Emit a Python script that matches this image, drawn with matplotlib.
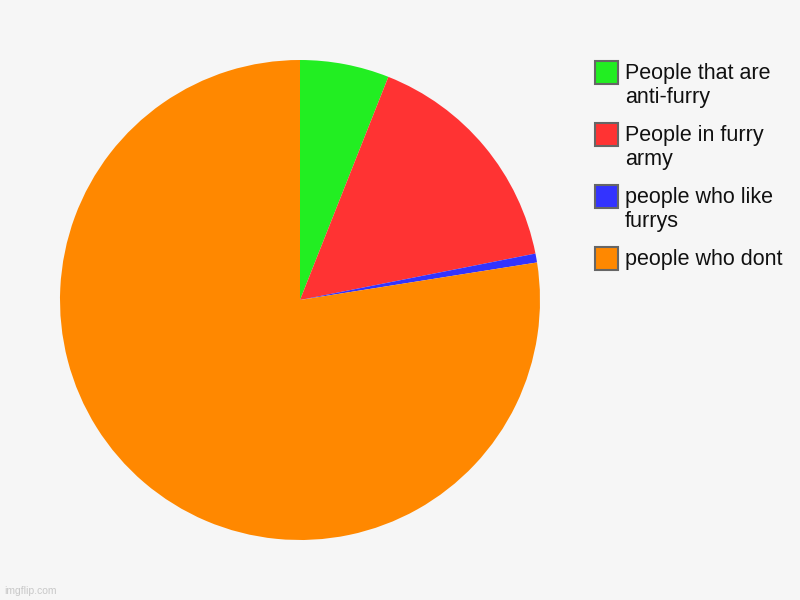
import matplotlib.pyplot as plt
from matplotlib.patches import Rectangle

labels = ['People that are\nanti-furry', 'People in furry\narmy', 'people who like\nfurrys', 'people who dont']
values = [6.0, 15.9, 0.6, 77.5]
colors = ['#22ee22', '#ff3333', '#3333ff', '#ff8800']

W, H = 800, 600
fig = plt.figure(figsize=(8, 6), dpi=100, facecolor='#f6f6f6')
ax = fig.add_axes([60 / W, 60 / H, 480 / W, 480 / H])
ax.pie(values, colors=colors, startangle=90, counterclock=False,
       radius=1, wedgeprops={'linewidth': 0})
ax.set_xlim(-1, 1)
ax.set_ylim(-1, 1)
ax.set_aspect('equal')
ax.axis('off')

# legend, drawn by hand to match the layout
box = 23
tops = [61, 123, 185, 247]
for lab, col, top in zip(labels, colors, tops):
    fig.patches.append(Rectangle((595 / W, 1 - (top + box) / H), box / W, box / H,
                                 transform=fig.transFigure, facecolor=col,
                                 edgecolor='#666666', linewidth=1.5))
    fig.text(625 / W, 1 - (top + 2) / H, lab, ha='left', va='top',
             fontsize=15.5, family='Liberation Sans', color='#111111',
             linespacing=1.2)

fig.text(4 / W, 1 - 591 / H, 'imgflip.com', ha='left', va='center',
         fontsize=7.5, family='Liberation Sans', color='#c8c8c8')

fig.savefig('out.png', dpi=100, facecolor=fig.get_facecolor())
